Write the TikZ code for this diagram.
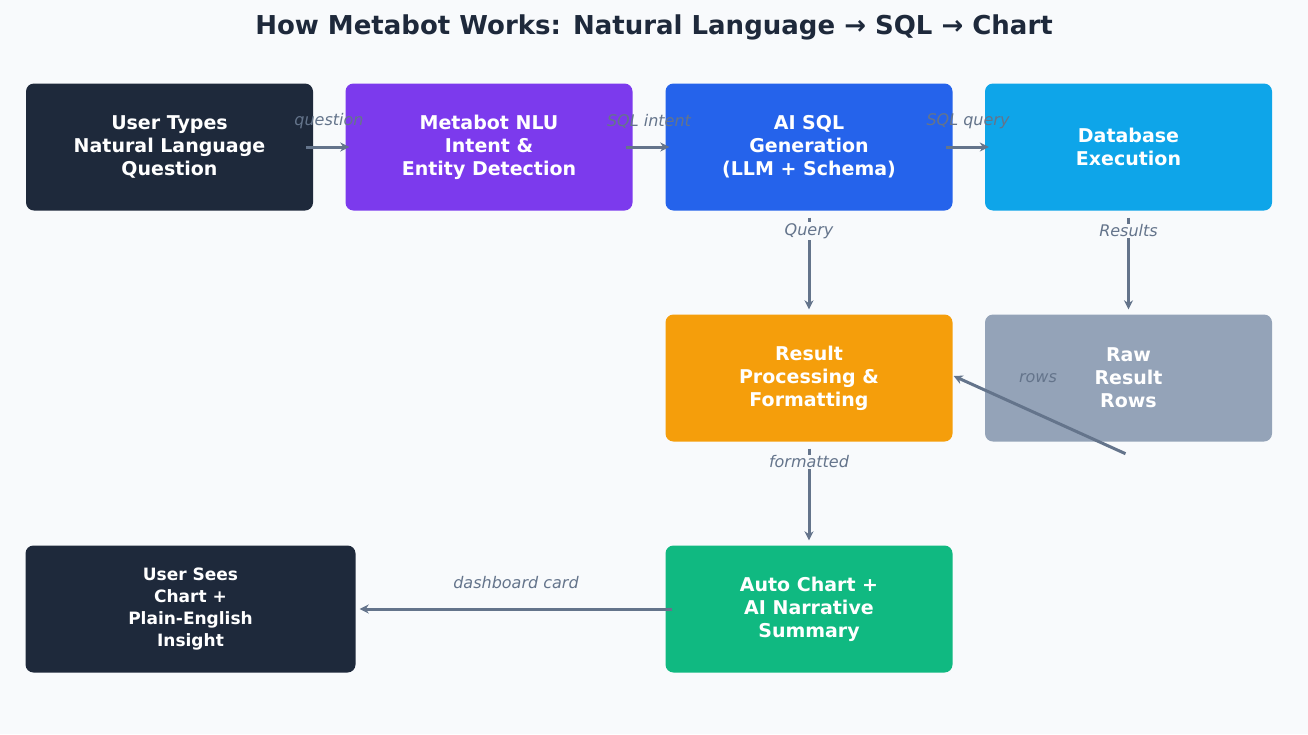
\documentclass[tikz,border=0pt]{standalone}
\usepackage{fontspec}
\setmainfont{DejaVu Sans}
\usetikzlibrary{arrows.meta}
\definecolor{bg}{HTML}{F8FAFC}
\definecolor{dark}{HTML}{1E293B}
\definecolor{purp}{HTML}{7C3AED}
\definecolor{blu}{HTML}{2563EB}
\definecolor{sky}{HTML}{0EA5E9}
\definecolor{ora}{HTML}{F59E0B}
\definecolor{gry}{HTML}{94A3B8}
\definecolor{grn}{HTML}{10B981}
\definecolor{arr}{HTML}{64748B}
\begin{document}
\begin{tikzpicture}[x=1pt,y=-1pt,
 box/.style={rectangle,rounded corners=8pt,minimum width=287pt,minimum height=127pt,align=center,text=white,font=\fontsize{19}{23}\selectfont\bfseries,inner sep=0pt},
 ar/.style={draw=arr,line width=3pt,-{Stealth[length=9pt,width=9pt]}},
 lab/.style={text=arr,font=\fontsize{16}{19}\selectfont\itshape,inner sep=1pt}]
\fill[bg] (0,0) rectangle (1308,734);
\useasboundingbox (0,0) rectangle (1308,734);
\node[text=dark,font=\fontsize{26}{30}\selectfont\bfseries] (t) at (654,27) {How Metabot Works: Natural Language → SQL → Chart};
\node[box,fill=dark] (b1) at (169.5,147) {User Types\\Natural Language\\Question};
\node[box,fill=purp] (b2) at (489,147) {Metabot NLU\\Intent \&\\Entity Detection};
\node[box,fill=blu] (b3) at (809,147) {AI SQL\\Generation\\(LLM + Schema)};
\node[box,fill=sky] (b4) at (1128.5,147) {Database\\Execution};
\node[box,fill=ora] (b5) at (809,378) {Result\\Processing \&\\Formatting};
\node[box,fill=gry] (b6) at (1128.5,378) {Raw\\Result\\Rows};
\node[box,fill=dark,minimum width=330pt,font=\fontsize{17}{22}\selectfont\bfseries] (b7) at (190.5,609) {User Sees\\Chart +\\Plain-English\\Insight};
\node[box,fill=grn] (b8) at (809,609) {Auto Chart +\\AI Narrative\\Summary};
\draw[ar] ([xshift=-7]b1.east) -- ([xshift=4]b2.west);
\draw[ar] ([xshift=-7]b2.east) -- ([xshift=4]b3.west);
\draw[ar] ([xshift=-7]b3.east) -- ([xshift=4]b4.west);
\node[lab] (l1) at (329,121) {question};
\node[lab] (l2) at (649,121) {SQL intent};
\node[lab] (l3) at (968,121) {SQL query};
\draw[ar] ([yshift=-7]b3.south) -- ([yshift=5]b5.north);
\draw[ar] ([yshift=-7]b4.south) -- ([yshift=5]b6.north);
\draw[ar] ([yshift=-7]b5.south) -- ([yshift=5]b8.north);
\draw[ar] ([xshift=-3,yshift=-12]b6.south) -- ([xshift=1,yshift=2]b5.east);
\draw[ar] ([xshift=7]b8.west) -- ([xshift=4]b7.east);
\node[lab,fill=bg] (l4) at (809,231) {Query};
\node[lab,fill=bg] (l5) at (1128.5,231) {Results};
\node[lab,fill=bg] (l6) at (809,462) {formatted};
\node[lab] (l7) at (1038,378) {rows};
\node[lab] (l8) at (516,583) {dashboard card};
\end{tikzpicture}
\end{document}
